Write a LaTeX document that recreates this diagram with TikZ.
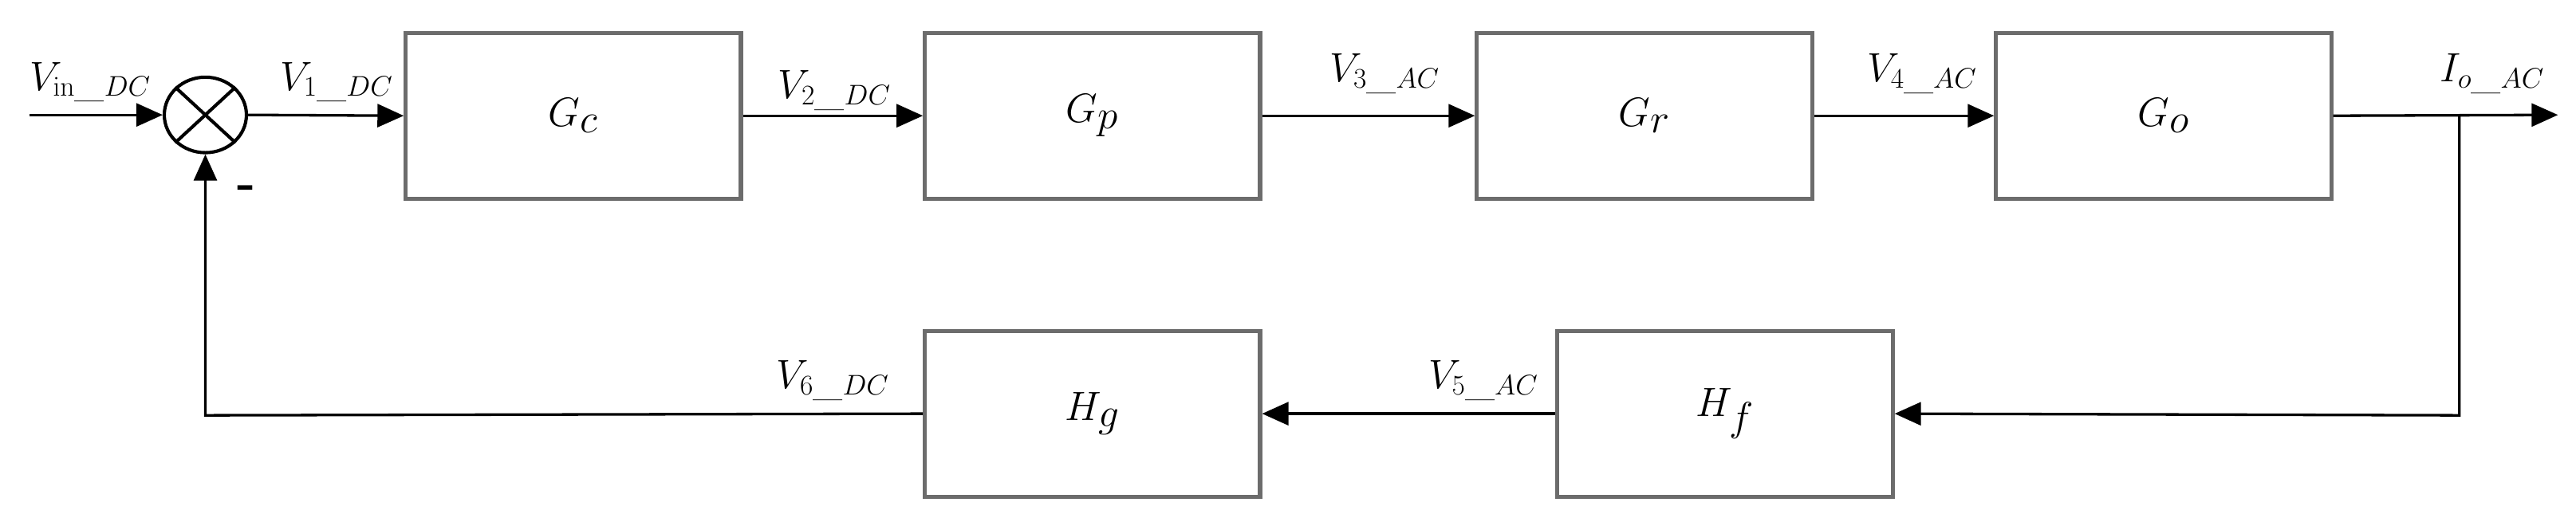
\documentclass[tikz,border=0pt]{standalone}
\usetikzlibrary{arrows.meta,shapes.geometric}
\begin{document}
\begin{tikzpicture}[x=1pt,y=-1pt,
  blk/.style={draw=gray!85!black,line width=2.5pt,minimum width=204pt,minimum height=101pt,inner sep=0pt,font=\fontsize{52}{60}\selectfont},
  sig/.style={line width=1.6pt,-{Triangle[length=16pt,width=14pt]}},
  lbl/.style={font=\fontsize{26}{30}\selectfont,inner sep=0pt}]
\useasboundingbox (0,0) rectangle (1568,313);
\node[draw,line width=2pt,ellipse,minimum width=50pt,minimum height=46pt,inner sep=0pt] (sum) at (125,70) {};
\draw[line width=2pt] (sum.north west) -- (sum.south east);
\draw[line width=2pt] (sum.north east) -- (sum.south west);
\node[blk] (gc) at (349,70.5) {$G_c$};
\node[blk] (gp) at (665,70.5) {$G_p$};
\node[blk] (gr) at (1001,70.5) {$G_r$};
\node[blk] (go) at (1317,70.5) {$G_o$};
\node[blk] (hf) at (1050,252) {$H_f$};
\node[blk] (hg) at (665,252) {$H_g$};
\coordinate (in) at (18,70);
\coordinate (out) at (1557,70);
\coordinate (br) at (1497,70);
\coordinate (br2) at (1497,253);
\coordinate (fb) at (125,253);
\draw[sig] (in) -- (sum.west);
\draw[sig] (sum.east) -- (gc.west);
\draw[sig] (gc.east) -- (gp.west);
\draw[sig] (gp.east) -- (gr.west);
\draw[sig] (gr.east) -- (go.west);
\draw[sig] (go.east) -- (out);
\draw[sig] (br) -- (br2) -- (hf.east);
\draw[sig] (hf.west) -- (hg.east);
\draw[sig] (hg.west) -- (fb) -- (sum.south);
\node[lbl] (l0) at (55,50) {$V_{\mathrm{in}\_DC}$};
\node[lbl] (l1) at (205,50) {$V_{1\_DC}$};
\node[lbl] (l2) at (508,55) {$V_{2\_DC}$};
\node[lbl] (l3) at (843,45) {$V_{3\_AC}$};
\node[lbl] (l4) at (1170,45) {$V_{4\_AC}$};
\node[lbl] (l5) at (1517,45) {$I_{o\_AC}$};
\node[lbl] (l6) at (507,232) {$V_{6\_DC}$};
\node[lbl] (l7) at (903,232) {$V_{5\_AC}$};
\node[lbl,font=\fontsize{30}{30}\bfseries] (m) at (150,117) {-};
\end{tikzpicture}
\end{document}
